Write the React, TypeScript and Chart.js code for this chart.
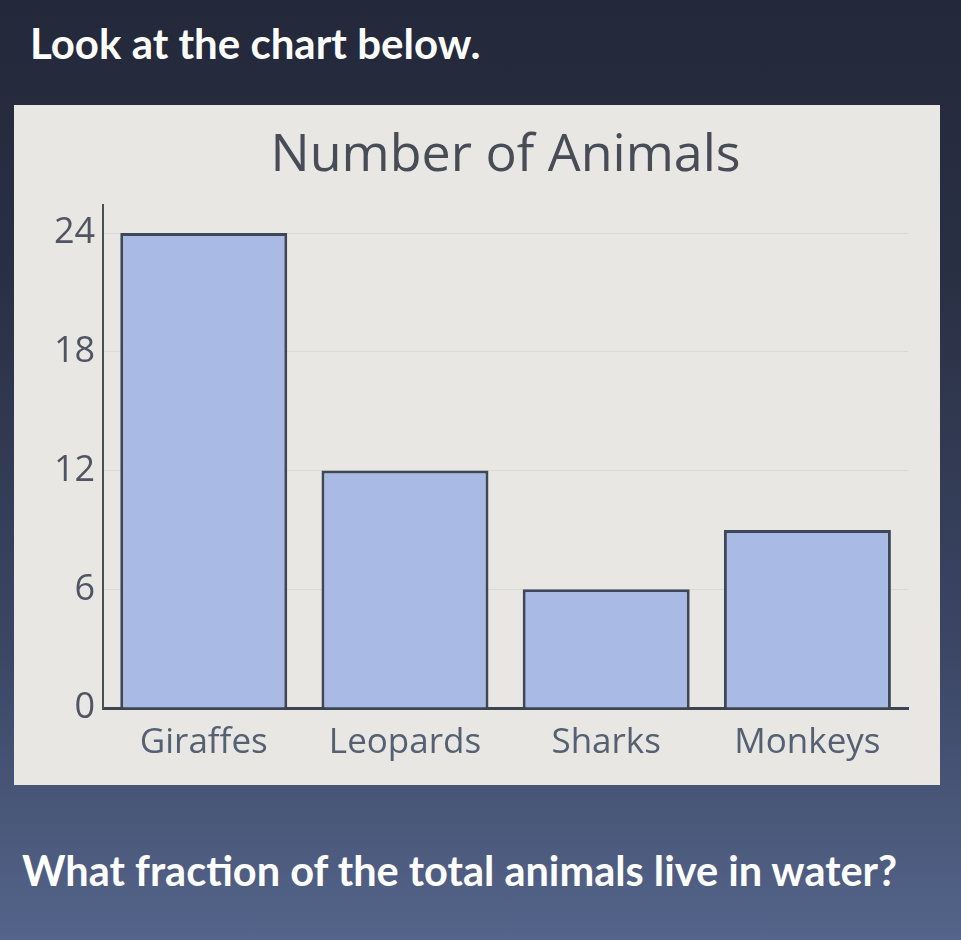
import React, { useEffect, useRef } from "react";
import { Chart, registerables } from "chart.js";

Chart.register(...registerables);

const chartTitle = "Number of Animals";
const categories = ["Giraffes", "Leopards", "Sharks", "Monkeys"];
const animalCounts = [24, 12, 6, 9];
const yTickValues = [0, 6, 12, 18, 24];
const headerText = "Look at the chart below.";
const questionText = "What fraction of the total animals live in water?";

export default function App() {
  const canvasRef = useRef<HTMLCanvasElement | null>(null);

  useEffect(() => {
    document.body.style.margin = "0";
    const canvas = canvasRef.current;
    if (!canvas) return;
    const chart = new Chart(canvas, {
      type: "bar",
      data: {
        labels: categories,
        datasets: [
          {
            data: animalCounts,
            backgroundColor: "#a9bae4",
            borderColor: "#3d4757",
            borderWidth: 3,
            barPercentage: 0.83,
            categoryPercentage: 1,
          },
        ],
      },
      options: {
        animation: false,
        responsive: false,
        maintainAspectRatio: false,
        layout: { padding: { left: 32, right: 32, top: 0, bottom: 7 } },
        plugins: {
          legend: { display: false },
          tooltip: { enabled: false },
          title: {
            display: true,
            text: chartTitle,
            color: "#474c56",
            font: { family: "Open Sans", size: 52, weight: "normal" },
            padding: { top: 20, bottom: 18 },
            fullSize: false,
          },
        },
        scales: {
          x: {
            grid: { display: false, drawTicks: false },
            border: { display: true, color: "#3d4452", width: 3 },
            ticks: {
              color: "#556073",
              padding: 14,
              font: { family: "Open Sans", size: 35 },
            },
          },
          y: {
            min: 0,
            max: 25.4,
            afterBuildTicks: (scale: any) => {
              scale.ticks = yTickValues.map((v) => ({ value: v }));
            },
            grid: { color: "rgba(120,120,120,0.13)", drawTicks: false },
            border: { display: true, color: "#4a4f58", width: 2 },
            ticks: {
              color: "#4f5562",
              padding: 8,
              font: { family: "Open Sans", size: 36 },
            },
          },
        },
      },
    });
    return () => chart.destroy();
  }, []);

  return (
    <div
      style={{
        position: "relative",
        width: 961,
        height: 940,
        overflow: "hidden",
        background: "linear-gradient(180deg, #23283a 0%, #2a3044 30%, #3c4765 70%, #54648a 100%)",
        fontFamily: "Lato, 'Open Sans', sans-serif",
      }}
    >
      <div
        style={{
          position: "absolute",
          left: 30,
          top: 18,
          color: "#ffffff",
          fontWeight: 700,
          fontSize: 42,
          whiteSpace: "nowrap",
        }}
      >
        {headerText}
      </div>
      <div
        style={{
          position: "absolute",
          left: 14,
          top: 105,
          width: 926,
          height: 680,
          background: "#e8e7e3",
        }}
      >
        <canvas ref={canvasRef} width={926} height={680} style={{ display: "block" }} />
      </div>
      <div
        style={{
          position: "absolute",
          left: 22,
          top: 845,
          color: "#ffffff",
          fontWeight: 700,
          fontSize: 41.5,
          whiteSpace: "nowrap",
        }}
      >
        {questionText}
      </div>
    </div>
  );
}
